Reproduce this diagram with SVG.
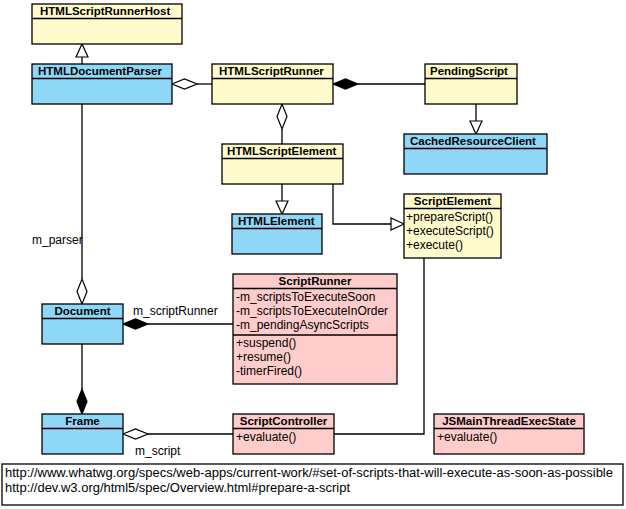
<svg xmlns="http://www.w3.org/2000/svg" width="626" height="509" viewBox="0 0 626 509">
<style>
rect{stroke:#000;stroke-width:1.3}
.y{fill:#fffbcc}.b{fill:#8fd7f6}.p{fill:#ffcccc}
line,path.l{stroke:#000;stroke-width:1.3;fill:none}
text{font-family:"Liberation Sans",Arial,sans-serif;font-size:12px;fill:#000}
.h{font-weight:bold;font-size:11.5px}
.ho{fill:#fff;stroke:#000;stroke-width:1.2}
.fi{fill:#000;stroke:#000;stroke-width:1.2}
</style>
<rect width="626" height="509" fill="#fff" style="stroke:none"/>
<g id="connectors">
<line x1="82" y1="64" x2="82" y2="57"/><path class="ho" d="M82,44 L76,57 L88,57 Z"/>
<line x1="197" y1="84" x2="212" y2="84"/><path class="ho" d="M172,84 L184.5,79 L197,84 L184.5,89 Z"/>
<line x1="358" y1="84" x2="425" y2="84"/><path class="fi" d="M333,84 L345.5,79 L358,84 L345.5,89 Z"/>
<line x1="282" y1="129" x2="282" y2="144"/><path class="ho" d="M282,104 L287,116.5 L282,129 L277,116.5 Z"/>
<line x1="282" y1="184" x2="282" y2="201"/><path class="ho" d="M282,214 L276,201 L288,201 Z"/>
<path class="l" d="M333,184 V224 H391"/><path class="ho" d="M404,224 L391,218 L391,230 Z"/>
<line x1="476" y1="104" x2="476" y2="121"/><path class="ho" d="M476,134 L470,121 L482,121 Z"/>
<line x1="82" y1="104" x2="82" y2="279"/><path class="ho" d="M82,304 L77,291.5 L82,279 L87,291.5 Z"/>
<text x="32" y="244">m_parser</text>
<line x1="148" y1="324" x2="233" y2="324"/><path class="fi" d="M123,324 L135.5,319 L148,324 L135.5,329 Z"/>
<text x="133" y="315">m_scriptRunner</text>
<line x1="82" y1="344" x2="82" y2="389"/><path class="fi" d="M82,414 L77,401.5 L82,389 L87,401.5 Z"/>
<line x1="148" y1="434" x2="233" y2="434"/><path class="ho" d="M123,434 L135.5,429 L148,434 L135.5,439 Z"/>
<text x="135" y="455">m_script</text>
<path class="l" d="M334,434 H424 V258"/>
</g>
<g id="HTMLScriptRunnerHost"><rect class="y" x="32" y="4" width="150" height="40"/><line x1="32" y1="18.5" x2="182" y2="18.5"/><text class="h" x="40" y="15">HTMLScriptRunnerHost</text></g>
<g id="HTMLDocumentParser"><rect class="b" x="32" y="64" width="140" height="40"/><line x1="32" y1="78.5" x2="172" y2="78.5"/><text class="h" x="38" y="75">HTMLDocumentParser</text></g>
<g id="HTMLScriptRunner"><rect class="y" x="212" y="64" width="121" height="40"/><line x1="212" y1="78.5" x2="333" y2="78.5"/><text class="h" x="219" y="75">HTMLScriptRunner</text></g>
<g id="PendingScript"><rect class="y" x="425" y="64" width="92" height="40"/><line x1="425" y1="78.5" x2="517" y2="78.5"/><text class="h" x="430" y="75">PendingScript</text></g>
<g id="HTMLScriptElement"><rect class="y" x="222" y="144" width="121" height="40"/><line x1="222" y1="158.5" x2="343" y2="158.5"/><text class="h" x="227" y="155">HTMLScriptElement</text></g>
<g id="HTMLElement"><rect class="b" x="232" y="214" width="90" height="40"/><line x1="232" y1="228.5" x2="322" y2="228.5"/><text class="h" x="238" y="225">HTMLElement</text></g>
<g id="CachedResourceClient"><rect class="b" x="404" y="134" width="143" height="40"/><line x1="404" y1="148.5" x2="547" y2="148.5"/><text class="h" x="410" y="145">CachedResourceClient</text></g>
<g id="ScriptElement"><rect class="y" x="404" y="194" width="97" height="64"/><line x1="404" y1="208.5" x2="501" y2="208.5"/><text class="h" x="452.5" y="205" text-anchor="middle">ScriptElement</text>
<text x="406" y="221">+prepareScript()</text><text x="406" y="235">+executeScript()</text><text x="406" y="249">+execute()</text></g>
<g id="Document"><rect class="b" x="42" y="304" width="81" height="40"/><line x1="42" y1="318.5" x2="123" y2="318.5"/><text class="h" x="82.5" y="315" text-anchor="middle">Document</text></g>
<g id="ScriptRunner"><rect class="p" x="233" y="274" width="164" height="110"/><line x1="233" y1="288.5" x2="397" y2="288.5"/><text class="h" x="315" y="285" text-anchor="middle">ScriptRunner</text>
<text x="236" y="301">-m_scriptsToExecuteSoon</text><text x="236" y="315">-m_scriptsToExecuteInOrder</text><text x="236" y="329">-m_pendingAsyncScripts</text>
<line x1="233" y1="335" x2="397" y2="335"/>
<text x="236" y="347">+suspend()</text><text x="236" y="361">+resume()</text><text x="236" y="375">-timerFired()</text></g>
<g id="Frame"><rect class="b" x="42" y="414" width="81" height="40"/><line x1="42" y1="428.5" x2="123" y2="428.5"/><text class="h" x="82.5" y="425" text-anchor="middle">Frame</text></g>
<g id="ScriptController"><rect class="p" x="233" y="414" width="101" height="40"/><line x1="233" y1="428.5" x2="334" y2="428.5"/><text class="h" x="283.5" y="425" text-anchor="middle">ScriptController</text><text x="236" y="441">+evaluate()</text></g>
<g id="JSMainThreadExecState"><rect class="p" x="434" y="414" width="150" height="40"/><line x1="434" y1="428.5" x2="584" y2="428.5"/><text class="h" x="509" y="425" text-anchor="middle">JSMainThreadExecState</text><text x="437" y="441">+evaluate()</text></g>
<g id="note"><rect x="2" y="464" width="621" height="41" fill="#fff"/>
<text x="5" y="477" textLength="608" lengthAdjust="spacingAndGlyphs">http://www.whatwg.org/specs/web-apps/current-work/#set-of-scripts-that-will-execute-as-soon-as-possible</text>
<text x="5" y="492" textLength="345" lengthAdjust="spacingAndGlyphs">http://dev.w3.org/html5/spec/Overview.html#prepare-a-script</text></g>
</svg>
